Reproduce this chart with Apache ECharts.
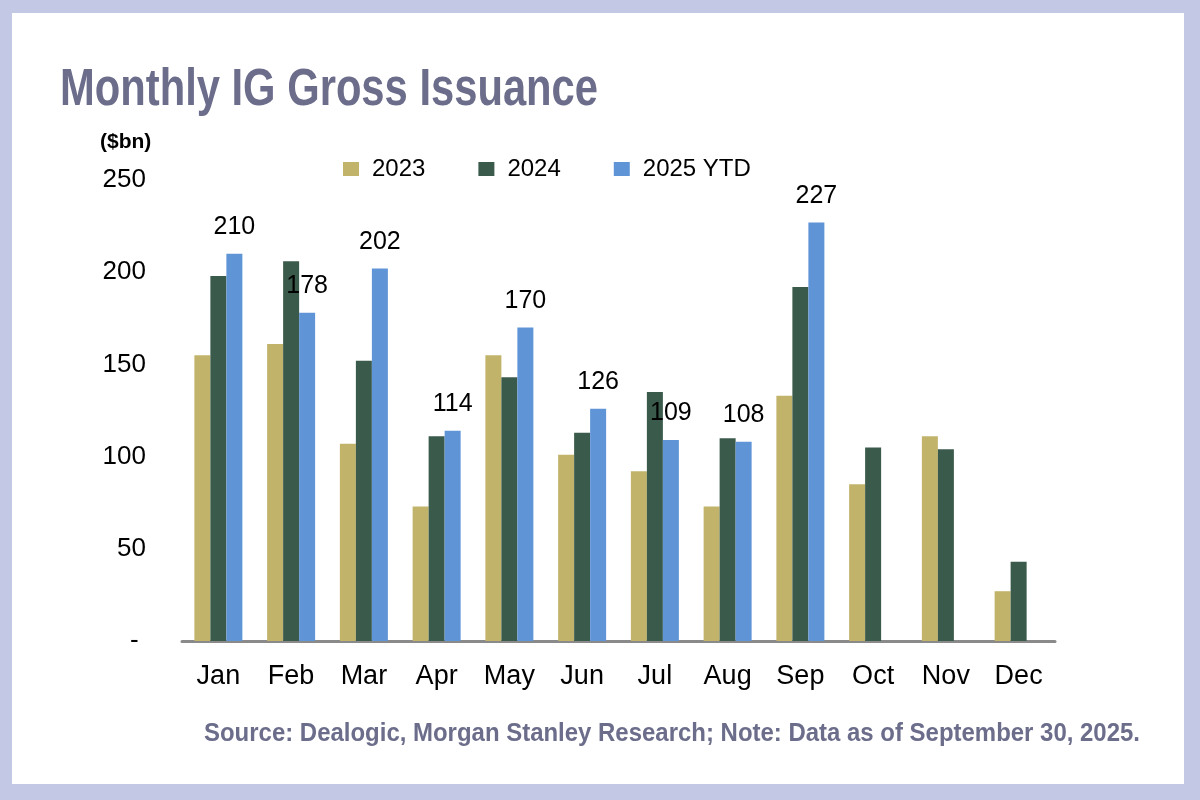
<!DOCTYPE html>
<html>
<head>
<meta charset="utf-8">
<script src="https://cdn.jsdelivr.net/npm/echarts@6/dist/echarts.min.js"></script>
<style>
  html, body { margin: 0; padding: 0; background: #c3c8e5; }
  #chart { width: 1200px; height: 800px; }
</style>
</head>
<body>
<div id="chart"></div>
<script>
// Data ($bn)
const months = ['Jan', 'Feb', 'Mar', 'Apr', 'May', 'Jun', 'Jul', 'Aug', 'Sep', 'Oct', 'Nov', 'Dec'];
const issuance2023 = [155, 161, 107, 73, 155, 101, 92, 73, 133, 85, 111, 27];
const issuance2024 = [198, 206, 152, 111, 143, 113, 135, 110, 192, 105, 104, 43];
const issuance2025 = [210, 178, 202, 114, 170, 126, 109, 108, 227, null, null, null];

const titleText = 'Monthly IG Gross Issuance';
const sourceText = 'Source: Dealogic, Morgan Stanley Research; Note: Data as of September 30, 2025.';

// squeeze a bold sans into the condensed look of the original
function squeeze(text, font, targetWidth) {
    const ctx = document.createElement('canvas').getContext('2d');
    ctx.font = font;
    return targetWidth / ctx.measureText(text).width;
}
const titleFont = 'bold 51px "Liberation Sans", Arial, sans-serif';
const sourceFont = 'bold 26px "Liberation Sans", Arial, sans-serif';

const chart = echarts.init(document.getElementById('chart'));

const option = {
    backgroundColor: '#c3c8e5',
    animation: false,
    textStyle: { fontFamily: 'Liberation Sans, Arial, sans-serif' },
    graphic: [
        // white panel inside the frame
        {
            type: 'rect', z: -10, silent: true,
            shape: { x: 12, y: 13, width: 1172, height: 771 },
            style: { fill: '#ffffff' }
        },
        {
            type: 'text', x: 60, y: 65,
            scaleX: squeeze(titleText, titleFont, 538),
            style: { text: titleText, font: titleFont, fill: '#6b6d8b' }
        },
        {
            type: 'text', left: 100, top: 132,
            style: {
                text: '($bn)',
                font: 'bold 21px "Liberation Sans", Arial, sans-serif',
                fill: '#000000'
            }
        },
        {
            type: 'text', x: 204, y: 721,
            scaleX: squeeze(sourceText, sourceFont, 936),
            style: { text: sourceText, font: sourceFont, fill: '#6b6d8b' }
        }
    ],
    legend: {
        data: ['2023', '2024', '2025 YTD'],
        left: 343,
        top: 157,
        padding: 0,
        itemWidth: 16,
        itemHeight: 14,
        itemGap: 53,
        icon: 'rect',
        textStyle: {
            fontSize: 24,
            color: '#000',
            padding: [0, 0, 0, 8],
            fontFamily: 'Liberation Sans, Arial, sans-serif'
        }
    },
    grid: {
        left: 182,
        right: 145,
        top: 180,
        bottom: 159,
        containLabel: false
    },
    xAxis: {
        type: 'category',
        data: months,
        axisTick: { show: false },
        axisLine: { lineStyle: { color: '#8a8a8a', width: 3 } },
        axisLabel: { fontSize: 27, color: '#000', margin: 22 }
    },
    yAxis: {
        type: 'value',
        min: 0,
        max: 250,
        interval: 50,
        splitLine: { show: false },
        axisLine: { show: false },
        axisTick: { show: false },
        axisLabel: {
            fontSize: 26,
            color: '#000',
            margin: 36,
            formatter: function (v) { return v === 0 ? '- ' : String(v); }
        }
    },
    series: [
        {
            name: '2023',
            type: 'bar',
            data: issuance2023,
            barWidth: 16,
            barGap: '0%',
            itemStyle: { color: '#c2b36b' }
        },
        {
            name: '2024',
            type: 'bar',
            data: issuance2024,
            barWidth: 16,
            barGap: '0%',
            itemStyle: { color: '#3a5a4b' }
        },
        {
            name: '2025 YTD',
            type: 'bar',
            data: issuance2025,
            barWidth: 16,
            barGap: '0%',
            itemStyle: { color: '#5f94d7' },
            label: {
                show: true,
                position: 'top',
                distance: 14,
                fontSize: 25,
                color: '#000'
            }
        }
    ]
};

chart.setOption(option);
</script>
</body>
</html>
